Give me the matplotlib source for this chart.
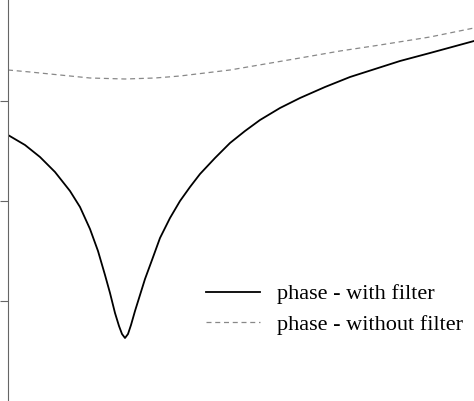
import numpy as np
import matplotlib.pyplot as plt

x_filter = [8, 25, 40, 55, 70, 80, 90, 98, 105, 110, 115, 119, 122, 125, 128, 131, 135, 140, 145, 152, 160, 170, 180, 190,
            200, 215, 230, 245, 260, 280, 300, 325, 350, 375, 400, 430, 474]
y_filter = [266, 256, 244, 229, 210, 194, 172, 150, 126, 108, 88, 75, 67, 63, 67, 76, 90, 106, 122, 141, 163, 183, 200, 214,
            227, 243, 258, 270, 281, 293, 303, 314, 324, 332, 340, 348, 360]
x_nofilter = [8, 30, 60, 90, 125, 155, 180, 205, 230, 265, 300, 340, 380, 430, 474]
y_nofilter = [331, 329, 326, 323, 322, 323, 325, 328, 331, 337, 343, 350, 356, 364, 373]

fig = plt.figure(figsize=(4.74, 4.01), dpi=100)
ax = fig.add_axes([8 / 474, 0, 1 - 8 / 474, 1])
ax.plot(x_filter, y_filter, color='black', lw=1.3, label='phase - with filter')
ax.plot(x_nofilter, y_nofilter, color='#888888', lw=0.9, ls=(0, (4, 3)), label='phase - without filter')
ax.set_xlim(8, 474)
ax.set_ylim(0, 401)
for s in ['top', 'right', 'bottom']:
    ax.spines[s].set_visible(False)
ax.spines['left'].set_color('#666666')
ax.set_xticks([])
ax.set_yticks([100, 200, 300])
ax.tick_params(axis='y', length=6, color='#666666', labelleft=False, direction='out')
ax.legend(loc='lower right', bbox_to_anchor=(1.02, 0.115), frameon=False,
          prop={'family': 'Liberation Serif', 'size': 16}, handlelength=2.4,
          labelspacing=0.45)
fig.savefig('out.png', dpi=100)
